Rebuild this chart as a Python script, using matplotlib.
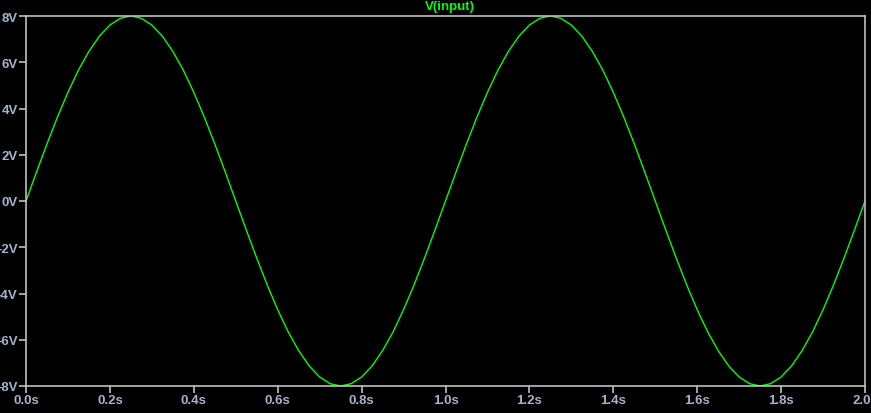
import matplotlib
matplotlib.use("Agg")
import matplotlib.pyplot as plt
import numpy as np

time_s = np.arange(0, 81) * 0.025
half_up = [0.00, 1.25, 2.47, 3.63, 4.70, 5.66, 6.47, 7.13, 7.61, 7.90,
           8.00, 7.90, 7.61, 7.13, 6.47, 5.66, 4.70, 3.63, 2.47, 1.25]
half_down = [-v for v in half_up]
v_input = half_up + half_down + half_up + half_down + [0.00]

y_ticks = [-8, -6, -4, -2, 0, 2, 4, 6, 8]
y_labels = ["-8V", "-6V", "-4V", "-2V", "0V", "2V", "4V", "6V", "8V"]
x_ticks = [0.0, 0.2, 0.4, 0.6, 0.8, 1.0, 1.2, 1.4, 1.6, 1.8, 2.0]
x_labels = ["0.0s", "0.2s", "0.4s", "0.6s", "0.8s", "1.0s",
            "1.2s", "1.4s", "1.6s", "1.8s", "2.0s"]

frame = "#c0c0c0"
label_col = "#a4b4cc"
trace = "#00ff00"

fig = plt.figure(figsize=(8.71, 4.14), dpi=100, facecolor="black")
ax = fig.add_axes([26 / 871, 27 / 414, 839 / 871, 370 / 414])
ax.set_facecolor("black")

ax.plot(time_s, v_input, color=trace, linewidth=1.0)

ax.set_xlim(0, 2.0)
ax.set_ylim(-8, 8)
ax.set_yticks(y_ticks)
ax.set_yticklabels(y_labels)
ax.set_xticks(x_ticks)
ax.set_xticklabels(x_labels)

for s in ax.spines.values():
    s.set_color(frame)
    s.set_linewidth(1.2)
ax.tick_params(colors=frame, length=5, width=1.2, pad=1)
for lab in ax.get_xticklabels() + ax.get_yticklabels():
    lab.set_color(label_col)
    lab.set_fontfamily("Liberation Sans")
    lab.set_fontweight("bold")
    lab.set_fontsize(9.5)

fig.text(450 / 871, 1 - 7 / 414, "V(input)", color=trace, ha="center", va="center",
         fontfamily="Liberation Sans", fontweight="bold", fontsize=9.5)

fig.savefig("out.png", dpi=100, facecolor="black")
